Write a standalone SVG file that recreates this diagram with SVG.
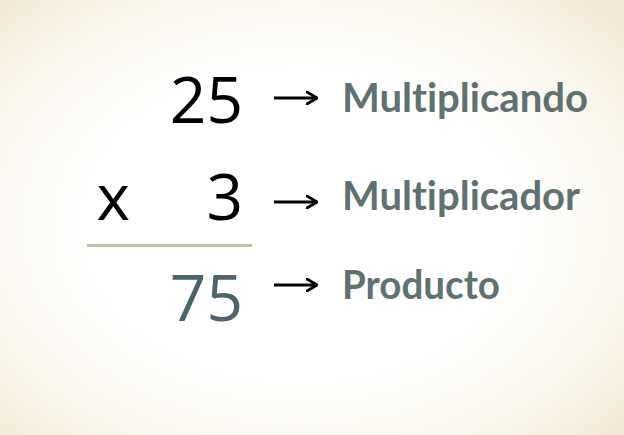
<svg xmlns="http://www.w3.org/2000/svg" width="624" height="435" viewBox="0 0 624 435">
<defs>
<radialGradient id="bg" cx="300" cy="225" r="420" gradientUnits="userSpaceOnUse" gradientTransform="translate(300 225) scale(1 0.72) translate(-300 -225)">
<stop offset="0" stop-color="#ffffff"/>
<stop offset="0.5" stop-color="#ffffff"/>
<stop offset="0.8" stop-color="#faf6ec"/>
<stop offset="1" stop-color="#f3ebd7"/>
</radialGradient>
<marker id="ah" viewBox="0 0 12 14" refX="11" refY="7" markerWidth="12" markerHeight="14" markerUnits="userSpaceOnUse" orient="auto">
<path d="M1,1 L11,7 L1,13" fill="none" stroke="#000" stroke-width="2.8" stroke-linecap="round" stroke-linejoin="round"/>
</marker>
<style>
.num{font-family:"Open Sans","DejaVu Sans",sans-serif;font-size:64px;text-anchor:end}
.lbl{font-family:Lato,"Open Sans",sans-serif;font-size:41px;font-weight:bold;fill:#5f7171;font-variant-ligatures:none;font-feature-settings:"liga" 0,"dlig" 0}
.arr{stroke:#000;stroke-width:2.8;fill:none;marker-end:url(#ah)}
</style>
</defs>
<rect width="624" height="435" fill="url(#bg)"/>
<g id="n25"><text class="num" x="243" y="123" fill="#000">25</text></g>
<g id="n3"><text class="num" x="243" y="220" fill="#000">3</text><text class="num" x="130" y="220" fill="#000">x</text></g>
<g id="rule"><line x1="87" y1="245.5" x2="252" y2="245.5" stroke="#c9bfa6" stroke-width="3"/></g>
<g id="n75"><text class="num" x="243" y="321" fill="#4e646c">75</text></g>
<g id="l1"><text class="lbl" x="342" y="112" textLength="246" lengthAdjust="spacingAndGlyphs">Multiplicando</text></g>
<g id="l2"><text class="lbl" x="342" y="210" textLength="238" lengthAdjust="spacingAndGlyphs">Multiplicador</text></g>
<g id="l3"><text class="lbl" x="342" y="299" textLength="158" lengthAdjust="spacingAndGlyphs">Producto</text></g>
<g id="connectors">
<line class="arr" x1="274" y1="98" x2="317" y2="98"/>
<line class="arr" x1="274" y1="202" x2="317" y2="202"/>
<line class="arr" x1="274" y1="285" x2="317" y2="285"/>
</g>
</svg>
